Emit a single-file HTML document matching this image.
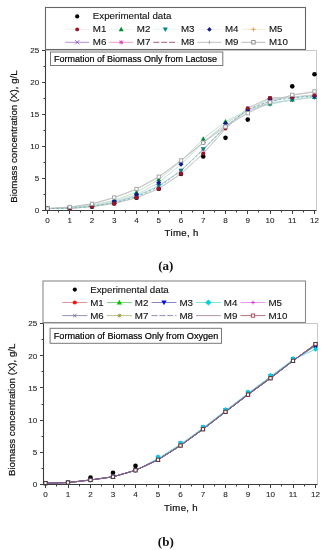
<!DOCTYPE html>
<html><head><meta charset="utf-8"><title>Biomass concentration</title>
<style>
html,body{margin:0;padding:0;background:#fff;}
body{width:325px;height:550px;overflow:hidden;}
svg{display:block;}
</style></head><body>
<svg width="325" height="550" viewBox="0 0 325 550">
<rect width="325" height="550" fill="#fff"/>
<path d="M45.5 50.5H316.5V210.5" stroke="#c8c8c8" stroke-width="1" fill="none"/>
<g fill="none" stroke-width="0.8">
<path d="M47.5 208.58L69.75 208.45L92 206.66L114.25 203.46L136.5 197.7L158.75 188.74L181 173.7L203.25 153.54L225.5 128.58L247.75 108.1L270 97.86L292.25 97.22L314.5 94.92" stroke="#e89898" stroke-linejoin="round"/>
<path d="M47.5 208.58L69.75 207.62L92 205.06L114.25 200.26L136.5 192.26L158.75 179.52L181 161.22L203.25 138.82L225.5 121.54L247.75 110.02L270 103.62L292.25 99.78L314.5 97.22" stroke="#b4dcbc" stroke-linejoin="round"/>
<path d="M47.5 208.58L69.75 207.94L92 206.02L114.25 202.18L136.5 195.78L158.75 185.92L181 170.63L203.25 149.06L225.5 127.3L247.75 110.02L270 104.26L292.25 99.78L314.5 97.22" stroke="#a8d8dc" stroke-linejoin="round"/>
<path d="M47.5 208.58L69.75 207.94L92 205.7L114.25 201.22L136.5 194.63L158.75 182.72L181 164.16L203.25 142.66L225.5 123.46L247.75 110.02L270 99.14L292.25 97.22L314.5 95.94" stroke="#c8d4e0" stroke-linejoin="round"/>
<path d="M47.5 208.58L69.75 207.94L92 205.7L114.25 201.22L136.5 194.63L158.75 182.72L181 164.16L203.25 142.66L225.5 123.46L247.75 110.02L270 99.14L292.25 97.22L314.5 95.94" stroke="#d8e4e0" stroke-linejoin="round"/>
<path d="M47.5 208.58L69.75 208.45L92 206.66L114.25 203.46L136.5 197.7L158.75 188.74L181 173.7L203.25 153.54L225.5 128.58L247.75 108.1L270 97.86L292.25 97.22L314.5 94.92" stroke="#b8d8d8" stroke-linejoin="round"/>
<path d="M47.5 208.58L69.75 207.94L92 206.02L114.25 202.18L136.5 195.78L158.75 185.92L181 170.63L203.25 149.06L225.5 127.3L247.75 110.02L270 102.98L292.25 99.78L314.5 97.22" stroke="#b8dcdc" stroke-linejoin="round"/>
<path d="M47.5 208.58L69.75 207.3L92 204.1L114.25 197.7L136.5 189.38L158.75 177.22L181 160.58L203.25 142.02L225.5 125.38L247.75 112.58L270 100.42L292.25 95.3L314.5 92.1" stroke="#c8c8c8" stroke-linejoin="round"/>
<path d="M47.5 208.58L69.75 206.98L92 203.78L114.25 197.51L136.5 188.93L158.75 176.71L181 160.45L203.25 142.66L225.5 126.66L247.75 113.22L270 102.34L292.25 94.85L314.5 91.46" stroke="#bcbcbc" stroke-linejoin="round"/>
<path d="M47.5 208.58L69.75 208.26L92 206.34L114.25 202.82L136.5 196.74L158.75 186.82L181 170.82L203.25 149.7L225.5 126.66L247.75 109.38L270 101.06L292.25 97.86L314.5 95.94" stroke="#6aa8a8" stroke-dasharray="2.5 2" stroke-linejoin="round"/>
</g>
<circle cx="47.5" cy="208.58" r="2.3" fill="#000"/>
<circle cx="69.75" cy="208.26" r="2.3" fill="#000"/>
<circle cx="92" cy="206.66" r="2.3" fill="#000"/>
<circle cx="114.25" cy="203.46" r="2.3" fill="#000"/>
<circle cx="136.5" cy="197.7" r="2.3" fill="#000"/>
<circle cx="158.75" cy="188.74" r="2.3" fill="#000"/>
<circle cx="181" cy="174.02" r="2.3" fill="#000"/>
<circle cx="203.25" cy="156.42" r="2.3" fill="#000"/>
<circle cx="225.5" cy="137.86" r="2.3" fill="#000"/>
<circle cx="247.75" cy="119.62" r="2.3" fill="#000"/>
<circle cx="270" cy="98.5" r="2.3" fill="#000"/>
<circle cx="292.25" cy="86.34" r="2.3" fill="#000"/>
<circle cx="314.5" cy="74.18" r="2.3" fill="#000"/>
<path d="M45.5 208.58H49.5M47.5 206.58V210.58" stroke="#f08020" stroke-width="0.7" fill="none"/>
<path d="M67.75 207.94H71.75M69.75 205.94V209.94" stroke="#f08020" stroke-width="0.7" fill="none"/>
<path d="M90 205.7H94M92 203.7V207.7" stroke="#f08020" stroke-width="0.7" fill="none"/>
<path d="M112.25 201.22H116.25M114.25 199.22V203.22" stroke="#f08020" stroke-width="0.7" fill="none"/>
<path d="M134.5 194.63H138.5M136.5 192.63V196.63" stroke="#f08020" stroke-width="0.7" fill="none"/>
<path d="M156.75 182.72H160.75M158.75 180.72V184.72" stroke="#f08020" stroke-width="0.7" fill="none"/>
<path d="M179 164.16H183M181 162.16V166.16" stroke="#f08020" stroke-width="0.7" fill="none"/>
<path d="M201.25 142.66H205.25M203.25 140.66V144.66" stroke="#f08020" stroke-width="0.7" fill="none"/>
<path d="M223.5 123.46H227.5M225.5 121.46V125.46" stroke="#f08020" stroke-width="0.7" fill="none"/>
<path d="M245.75 110.02H249.75M247.75 108.02V112.02" stroke="#f08020" stroke-width="0.7" fill="none"/>
<path d="M268 99.14H272M270 97.14V101.14" stroke="#f08020" stroke-width="0.7" fill="none"/>
<path d="M290.25 97.22H294.25M292.25 95.22V99.22" stroke="#f08020" stroke-width="0.7" fill="none"/>
<path d="M312.5 95.94H316.5M314.5 93.94V97.94" stroke="#f08020" stroke-width="0.7" fill="none"/>
<path d="M45.9 206.98L49.1 210.18M45.9 210.18L49.1 206.98" stroke="#8040c0" stroke-width="0.8" fill="none"/>
<path d="M68.15 206.85L71.35 210.05M68.15 210.05L71.35 206.85" stroke="#8040c0" stroke-width="0.8" fill="none"/>
<path d="M90.4 205.06L93.6 208.26M90.4 208.26L93.6 205.06" stroke="#8040c0" stroke-width="0.8" fill="none"/>
<path d="M112.65 201.86L115.85 205.06M112.65 205.06L115.85 201.86" stroke="#8040c0" stroke-width="0.8" fill="none"/>
<path d="M134.9 196.1L138.1 199.3M134.9 199.3L138.1 196.1" stroke="#8040c0" stroke-width="0.8" fill="none"/>
<path d="M157.15 187.14L160.35 190.34M157.15 190.34L160.35 187.14" stroke="#8040c0" stroke-width="0.8" fill="none"/>
<path d="M179.4 172.1L182.6 175.3M179.4 175.3L182.6 172.1" stroke="#8040c0" stroke-width="0.8" fill="none"/>
<path d="M201.65 151.94L204.85 155.14M201.65 155.14L204.85 151.94" stroke="#8040c0" stroke-width="0.8" fill="none"/>
<path d="M223.9 126.98L227.1 130.18M223.9 130.18L227.1 126.98" stroke="#8040c0" stroke-width="0.8" fill="none"/>
<path d="M246.15 106.5L249.35 109.7M246.15 109.7L249.35 106.5" stroke="#8040c0" stroke-width="0.8" fill="none"/>
<path d="M268.4 96.26L271.6 99.46M268.4 99.46L271.6 96.26" stroke="#8040c0" stroke-width="0.8" fill="none"/>
<path d="M290.65 95.62L293.85 98.82M290.65 98.82L293.85 95.62" stroke="#8040c0" stroke-width="0.8" fill="none"/>
<path d="M312.9 93.32L316.1 96.52M312.9 96.52L316.1 93.32" stroke="#8040c0" stroke-width="0.8" fill="none"/>
<path d="M45.8 206.88L49.2 210.28M45.8 210.28L49.2 206.88M45.5 208.58H49.5M47.5 206.58V210.58" stroke="#e040b0" stroke-width="0.9" fill="none"/>
<path d="M68.05 206.24L71.45 209.64M68.05 209.64L71.45 206.24M67.75 207.94H71.75M69.75 205.94V209.94" stroke="#e040b0" stroke-width="0.9" fill="none"/>
<path d="M90.3 204.32L93.7 207.72M90.3 207.72L93.7 204.32M90 206.02H94M92 204.02V208.02" stroke="#e040b0" stroke-width="0.9" fill="none"/>
<path d="M112.55 200.48L115.95 203.88M112.55 203.88L115.95 200.48M112.25 202.18H116.25M114.25 200.18V204.18" stroke="#e040b0" stroke-width="0.9" fill="none"/>
<path d="M134.8 194.08L138.2 197.48M134.8 197.48L138.2 194.08M134.5 195.78H138.5M136.5 193.78V197.78" stroke="#e040b0" stroke-width="0.9" fill="none"/>
<path d="M157.05 184.22L160.45 187.62M157.05 187.62L160.45 184.22M156.75 185.92H160.75M158.75 183.92V187.92" stroke="#e040b0" stroke-width="0.9" fill="none"/>
<path d="M179.3 168.93L182.7 172.33M179.3 172.33L182.7 168.93M179 170.63H183M181 168.63V172.63" stroke="#e040b0" stroke-width="0.9" fill="none"/>
<path d="M201.55 147.36L204.95 150.76M201.55 150.76L204.95 147.36M201.25 149.06H205.25M203.25 147.06V151.06" stroke="#e040b0" stroke-width="0.9" fill="none"/>
<path d="M223.8 125.6L227.2 129M223.8 129L227.2 125.6M223.5 127.3H227.5M225.5 125.3V129.3" stroke="#e040b0" stroke-width="0.9" fill="none"/>
<path d="M246.05 108.32L249.45 111.72M246.05 111.72L249.45 108.32M245.75 110.02H249.75M247.75 108.02V112.02" stroke="#e040b0" stroke-width="0.9" fill="none"/>
<path d="M268.3 101.28L271.7 104.68M268.3 104.68L271.7 101.28M268 102.98H272M270 100.98V104.98" stroke="#e040b0" stroke-width="0.9" fill="none"/>
<path d="M290.55 98.08L293.95 101.48M290.55 101.48L293.95 98.08M290.25 99.78H294.25M292.25 97.78V101.78" stroke="#e040b0" stroke-width="0.9" fill="none"/>
<path d="M312.8 95.52L316.2 98.92M312.8 98.92L316.2 95.52M312.5 97.22H316.5M314.5 95.22V99.22" stroke="#e040b0" stroke-width="0.9" fill="none"/>
<path d="M47.5 206.78V210.38" stroke="#999" stroke-width="0.9" fill="none"/>
<path d="M69.75 205.5V209.1" stroke="#999" stroke-width="0.9" fill="none"/>
<path d="M92 202.3V205.9" stroke="#999" stroke-width="0.9" fill="none"/>
<path d="M114.25 195.9V199.5" stroke="#999" stroke-width="0.9" fill="none"/>
<path d="M136.5 187.58V191.18" stroke="#999" stroke-width="0.9" fill="none"/>
<path d="M158.75 175.42V179.02" stroke="#999" stroke-width="0.9" fill="none"/>
<path d="M181 158.78V162.38" stroke="#999" stroke-width="0.9" fill="none"/>
<path d="M203.25 140.22V143.82" stroke="#999" stroke-width="0.9" fill="none"/>
<path d="M225.5 123.58V127.18" stroke="#999" stroke-width="0.9" fill="none"/>
<path d="M247.75 110.78V114.38" stroke="#999" stroke-width="0.9" fill="none"/>
<path d="M270 98.62V102.22" stroke="#999" stroke-width="0.9" fill="none"/>
<path d="M292.25 93.5V97.1" stroke="#999" stroke-width="0.9" fill="none"/>
<path d="M314.5 90.3V93.9" stroke="#999" stroke-width="0.9" fill="none"/>
<polygon points="47.5,206.11 45.03,210.41 49.97,210.41" fill="#008a30"/>
<polygon points="69.75,205.15 67.28,209.45 72.22,209.45" fill="#008a30"/>
<polygon points="92,202.59 89.53,206.89 94.47,206.89" fill="#008a30"/>
<polygon points="114.25,197.79 111.78,202.09 116.72,202.09" fill="#008a30"/>
<polygon points="136.5,189.79 134.03,194.09 138.97,194.09" fill="#008a30"/>
<polygon points="158.75,177.05 156.28,181.35 161.22,181.35" fill="#008a30"/>
<polygon points="181,158.75 178.53,163.05 183.47,163.05" fill="#008a30"/>
<polygon points="203.25,136.35 200.78,140.65 205.72,140.65" fill="#008a30"/>
<polygon points="225.5,119.07 223.03,123.37 227.97,123.37" fill="#008a30"/>
<polygon points="247.75,107.55 245.28,111.85 250.22,111.85" fill="#008a30"/>
<polygon points="270,101.15 267.53,105.45 272.47,105.45" fill="#008a30"/>
<polygon points="292.25,97.31 289.78,101.61 294.72,101.61" fill="#008a30"/>
<polygon points="314.5,94.75 312.03,99.05 316.97,99.05" fill="#008a30"/>
<polygon points="47.5,211.05 45.03,206.75 49.97,206.75" fill="#008888"/>
<polygon points="69.75,210.41 67.28,206.11 72.22,206.11" fill="#008888"/>
<polygon points="92,208.49 89.53,204.19 94.47,204.19" fill="#008888"/>
<polygon points="114.25,204.65 111.78,200.35 116.72,200.35" fill="#008888"/>
<polygon points="136.5,198.25 134.03,193.95 138.97,193.95" fill="#008888"/>
<polygon points="158.75,188.4 156.28,184.1 161.22,184.1" fill="#008888"/>
<polygon points="181,173.1 178.53,168.8 183.47,168.8" fill="#008888"/>
<polygon points="203.25,151.53 200.78,147.23 205.72,147.23" fill="#008888"/>
<polygon points="225.5,129.77 223.03,125.47 227.97,125.47" fill="#008888"/>
<polygon points="247.75,112.49 245.28,108.19 250.22,108.19" fill="#008888"/>
<polygon points="270,106.73 267.53,102.43 272.47,102.43" fill="#008888"/>
<polygon points="292.25,102.25 289.78,97.95 294.72,97.95" fill="#008888"/>
<polygon points="314.5,99.69 312.03,95.39 316.97,95.39" fill="#008888"/>
<polygon points="47.5,206.06 50.02,208.58 47.5,211.1 44.98,208.58" fill="#101890"/>
<polygon points="69.75,205.42 72.27,207.94 69.75,210.46 67.23,207.94" fill="#101890"/>
<polygon points="92,203.18 94.52,205.7 92,208.22 89.48,205.7" fill="#101890"/>
<polygon points="114.25,198.7 116.77,201.22 114.25,203.74 111.73,201.22" fill="#101890"/>
<polygon points="136.5,192.11 139.02,194.63 136.5,197.15 133.98,194.63" fill="#101890"/>
<polygon points="158.75,180.2 161.27,182.72 158.75,185.24 156.23,182.72" fill="#101890"/>
<polygon points="181,161.64 183.52,164.16 181,166.68 178.48,164.16" fill="#101890"/>
<polygon points="203.25,140.14 205.77,142.66 203.25,145.18 200.73,142.66" fill="#101890"/>
<polygon points="225.5,120.94 228.02,123.46 225.5,125.98 222.98,123.46" fill="#101890"/>
<polygon points="247.75,107.5 250.27,110.02 247.75,112.54 245.23,110.02" fill="#101890"/>
<polygon points="270,96.62 272.52,99.14 270,101.66 267.48,99.14" fill="#101890"/>
<polygon points="292.25,94.7 294.77,97.22 292.25,99.74 289.73,97.22" fill="#101890"/>
<polygon points="314.5,93.42 317.02,95.94 314.5,98.46 311.98,95.94" fill="#101890"/>
<circle cx="47.5" cy="208.58" r="1.95" fill="#a01020"/>
<circle cx="69.75" cy="208.45" r="1.95" fill="#a01020"/>
<circle cx="92" cy="206.66" r="1.95" fill="#a01020"/>
<circle cx="114.25" cy="203.46" r="1.95" fill="#a01020"/>
<circle cx="136.5" cy="197.7" r="1.95" fill="#a01020"/>
<circle cx="158.75" cy="188.74" r="1.95" fill="#a01020"/>
<circle cx="181" cy="173.7" r="1.95" fill="#a01020"/>
<circle cx="203.25" cy="153.54" r="1.95" fill="#a01020"/>
<circle cx="225.5" cy="128.58" r="1.95" fill="#a01020"/>
<circle cx="247.75" cy="108.1" r="1.95" fill="#a01020"/>
<circle cx="270" cy="97.86" r="1.95" fill="#a01020"/>
<circle cx="292.25" cy="97.22" r="1.95" fill="#a01020"/>
<circle cx="314.5" cy="94.92" r="1.95" fill="#a01020"/>
<rect x="45.85" y="206.93" width="3.3" height="3.3" fill="#fff" stroke="#a0a0a0" stroke-width="0.9"/>
<rect x="68.1" y="205.33" width="3.3" height="3.3" fill="#fff" stroke="#a0a0a0" stroke-width="0.9"/>
<rect x="90.35" y="202.13" width="3.3" height="3.3" fill="#fff" stroke="#a0a0a0" stroke-width="0.9"/>
<rect x="112.6" y="195.86" width="3.3" height="3.3" fill="#fff" stroke="#a0a0a0" stroke-width="0.9"/>
<rect x="134.85" y="187.28" width="3.3" height="3.3" fill="#fff" stroke="#a0a0a0" stroke-width="0.9"/>
<rect x="157.1" y="175.06" width="3.3" height="3.3" fill="#fff" stroke="#a0a0a0" stroke-width="0.9"/>
<rect x="179.35" y="158.8" width="3.3" height="3.3" fill="#fff" stroke="#a0a0a0" stroke-width="0.9"/>
<rect x="201.6" y="141.01" width="3.3" height="3.3" fill="#fff" stroke="#a0a0a0" stroke-width="0.9"/>
<rect x="223.85" y="125.01" width="3.3" height="3.3" fill="#fff" stroke="#a0a0a0" stroke-width="0.9"/>
<rect x="246.1" y="111.57" width="3.3" height="3.3" fill="#fff" stroke="#a0a0a0" stroke-width="0.9"/>
<rect x="268.35" y="100.69" width="3.3" height="3.3" fill="#fff" stroke="#a0a0a0" stroke-width="0.9"/>
<rect x="290.6" y="93.2" width="3.3" height="3.3" fill="#fff" stroke="#a0a0a0" stroke-width="0.9"/>
<rect x="312.85" y="89.81" width="3.3" height="3.3" fill="#fff" stroke="#a0a0a0" stroke-width="0.9"/>
<path d="M45.5 50.5V210.5H316.5" stroke="#3c3c3c" stroke-width="1.1" fill="none"/>
<path d="M47.5 210.5v3.5M58.5 210.5v2M69.5 210.5v3.5M80.5 210.5v2M92.5 210.5v3.5M103.5 210.5v2M114.5 210.5v3.5M125.5 210.5v2M136.5 210.5v3.5M147.5 210.5v2M158.5 210.5v3.5M169.5 210.5v2M181.5 210.5v3.5M192.5 210.5v2M203.5 210.5v3.5M214.5 210.5v2M225.5 210.5v3.5M236.5 210.5v2M247.5 210.5v3.5M258.5 210.5v2M270.5 210.5v3.5M281.5 210.5v2M292.5 210.5v3.5M303.5 210.5v2M314.5 210.5v3.5M45.5 210.5h-3.5M45.5 194.5h-2M45.5 178.5h-3.5M45.5 162.5h-2M45.5 146.5h-3.5M45.5 130.5h-2M45.5 114.5h-3.5M45.5 98.5h-2M45.5 82.5h-3.5M45.5 66.5h-2M45.5 50.5h-3.5" stroke="#3c3c3c" stroke-width="1" fill="none"/>
<g style="font-family:'Liberation Sans',Arial,sans-serif;font-size:8.1px" fill="#222" stroke="#222" stroke-width="0.08">
<text x="47.5" y="222.6" text-anchor="middle">0</text>
<text x="69.75" y="222.6" text-anchor="middle">1</text>
<text x="92" y="222.6" text-anchor="middle">2</text>
<text x="114.25" y="222.6" text-anchor="middle">3</text>
<text x="136.5" y="222.6" text-anchor="middle">4</text>
<text x="158.75" y="222.6" text-anchor="middle">5</text>
<text x="181" y="222.6" text-anchor="middle">6</text>
<text x="203.25" y="222.6" text-anchor="middle">7</text>
<text x="225.5" y="222.6" text-anchor="middle">8</text>
<text x="247.75" y="222.6" text-anchor="middle">9</text>
<text x="270" y="222.6" text-anchor="middle">10</text>
<text x="292.25" y="222.6" text-anchor="middle">11</text>
<text x="314.5" y="222.6" text-anchor="middle">12</text>
<text x="39.3" y="213.4" text-anchor="end">0</text>
<text x="39.3" y="181.4" text-anchor="end">5</text>
<text x="39.3" y="149.4" text-anchor="end">10</text>
<text x="39.3" y="117.4" text-anchor="end">15</text>
<text x="39.3" y="85.4" text-anchor="end">20</text>
<text x="39.3" y="53.4" text-anchor="end">25</text>
</g>
<text x="181.6" y="235.9" text-anchor="middle" style="font-family:'Liberation Sans',Arial,sans-serif;font-size:9.6px;letter-spacing:0.35px" fill="#111" stroke="#111" stroke-width="0.22">Time, h</text>
<text transform="translate(17.1 136.6) rotate(-90)" text-anchor="middle" style="font-family:'Liberation Sans',Arial,sans-serif;font-size:9.7px" fill="#111" stroke="#111" stroke-width="0.22">Biomass concentration (X), g/L</text>
<rect x="45.5" y="7.5" width="260" height="42" fill="#fff" stroke="#666" stroke-width="1.1"/>
<circle cx="77.2" cy="16.4" r="2.1" fill="#000"/>
<path d="M65.2 29.4H89.2" stroke="#fae6e6" stroke-width="0.9" fill="none"/>
<circle cx="77.2" cy="29.4" r="1.9" fill="#a01020"/>
<path d="M109.2 29.4H133.2" stroke="#e6f6ea" stroke-width="0.9" fill="none"/>
<polygon points="121.2,26.87 118.67,31.27 123.73,31.27" fill="#008a30"/>
<path d="M153.3 29.4H177.3" stroke="#e2f5f6" stroke-width="0.9" fill="none"/>
<polygon points="165.3,31.93 162.77,27.53 167.83,27.53" fill="#008888"/>
<path d="M197.4 29.4H221.4" stroke="#eeeef8" stroke-width="0.9" fill="none"/>
<polygon points="209.4,27.12 211.68,29.4 209.4,31.68 207.12,29.4" fill="#101890"/>
<path d="M241.4 29.4H265.4" stroke="#fbead4" stroke-width="0.9" fill="none"/>
<path d="M251.2 29.4H255.6M253.4 27.2V31.6" stroke="#f08020" stroke-width="0.7" fill="none"/>
<path d="M65.2 42.3H89.2" stroke="#b088cc" stroke-width="0.9" fill="none"/>
<path d="M75.12 40.22L79.28 44.38M75.12 44.38L79.28 40.22" stroke="#8040c0" stroke-width="0.8" fill="none"/>
<path d="M109.2 42.3H133.2" stroke="#e890c8" stroke-width="0.9" fill="none"/>
<path d="M119.5 40.6L122.9 44M119.5 44L122.9 40.6M119.2 42.3H123.2M121.2 40.3V44.3" stroke="#e040b0" stroke-width="0.9" fill="none"/>
<path d="M153.3 42.3H177.3" stroke="#985060" stroke-width="0.9" stroke-dasharray="6 1.9" fill="none"/>
<path d="M197.4 42.3H221.4" stroke="#b8b8b8" stroke-width="0.9" fill="none"/>
<path d="M209.4 40.5V44.1" stroke="#999" stroke-width="0.9" fill="none"/>
<path d="M241.4 42.3H265.4" stroke="#b0b0b0" stroke-width="0.9" fill="none"/>
<rect x="251.7" y="40.6" width="3.4" height="3.4" fill="#fff" stroke="#808080" stroke-width="0.9"/>
<g style="font-family:'Liberation Sans',Arial,sans-serif;font-size:9.75px" fill="#111" stroke="#111" stroke-width="0.12">
<text x="92.8" y="19.2">Experimental data</text>
<text x="92.8" y="32.2">M1</text>
<text x="136.8" y="32.2">M2</text>
<text x="180.9" y="32.2">M3</text>
<text x="225" y="32.2">M4</text>
<text x="269" y="32.2">M5</text>
<text x="92.8" y="45.1">M6</text>
<text x="136.8" y="45.1">M7</text>
<text x="180.9" y="45.1">M8</text>
<text x="225" y="45.1">M9</text>
<text x="269" y="45.1">M10</text>
</g>
<rect x="50.5" y="52" width="172.3" height="13.5" fill="#fff" stroke="#777" stroke-width="1"/>
<text x="54" y="61.9" style="font-family:'Liberation Sans',Arial,sans-serif;font-size:9.1px" fill="#000" stroke="#000" stroke-width="0.2" textLength="163" lengthAdjust="spacingAndGlyphs">Formation of Biomass Only from Lactose</text>
<text x="165.8" y="270" text-anchor="middle" style="font-family:'Liberation Serif',serif;font-weight:bold;font-size:13px" fill="#111">(a)</text>
<path d="M43.5 323.5H317.5V484.5" stroke="#c8c8c8" stroke-width="1" fill="none"/>
<g fill="none" stroke-width="0.7">
<path d="M45.5 483.21L68 482.57L90.5 479.99L113 476.77L135.5 470.33L158 459.77L180.5 445.54L203 429.24L225.5 411.86L248 394.66L270.5 378.24L293 360.85L315.5 344.11" stroke="#d86868" stroke-linejoin="round"/>
<path d="M45.5 483.21L68 482.57L90.5 479.99L113 476.77L135.5 470.33L158 459.77L180.5 445.22L203 428.6L225.5 411.21L248 393.7L270.5 376.95L293 360.21L315.5 346.04" stroke="#40c040" stroke-linejoin="round"/>
<path d="M45.5 483.21L68 482.57L90.5 479.99L113 476.77L135.5 470.33L158 458.48L180.5 444.25L203 427.96L225.5 410.57L248 393.37L270.5 376.63L293 359.56L315.5 349.26" stroke="#30d0d8" stroke-linejoin="round"/>
<path d="M45.5 483.21L68 482.57L90.5 479.99L113 476.77L135.5 470.33L158 459.77L180.5 445.54L203 428.92L225.5 411.53L248 394.02L270.5 377.6L293 360.53L315.5 344.75" stroke="#d050d0" stroke-linejoin="round"/>
<path d="M45.5 483.21L68 482.57L90.5 479.99L113 476.77L135.5 470.33L158 459.77L180.5 445.54L203 429.24L225.5 411.86L248 394.66L270.5 378.24L293 360.85L315.5 344.11" stroke="#7070a0" stroke-linejoin="round"/>
<path d="M45.5 483.21L68 482.57L90.5 479.99L113 476.77L135.5 470.33L158 459.77L180.5 445.54L203 429.24L225.5 411.86L248 394.66L270.5 378.24L293 360.85L315.5 344.11" stroke="#a8a860" stroke-linejoin="round"/>
<path d="M45.5 483.21L68 482.57L90.5 479.99L113 476.77L135.5 470.33L158 459.77L180.5 445.54L203 429.24L225.5 411.86L248 394.66L270.5 378.24L293 360.85L315.5 344.11" stroke="#7a3a50" stroke-linejoin="round"/>
<path d="M45.5 483.21L68 482.57L90.5 479.99L113 476.77L135.5 470.33L158 459.77L180.5 445.54L203 429.24L225.5 411.86L248 394.66L270.5 378.24L293 360.85L315.5 345.4" stroke="#5050b0" stroke-linejoin="round"/>
<path d="M45.5 483.21L68 482.57L90.5 479.99L113 476.77L135.5 470.33L158 459.77L180.5 445.54L203 429.24L225.5 411.86L248 394.66L270.5 378.24L293 360.85L315.5 344.11" stroke="#5858a8" stroke-dasharray="3 2" stroke-linejoin="round"/>
<path d="M45.5 483.21L68 482.57L90.5 479.99L113 476.77L135.5 470.33L158 459.77L180.5 445.54L203 429.24L225.5 411.86L248 394.66L270.5 378.24L293 360.85L315.5 344.11" stroke="#a06888" stroke-linejoin="round"/>
</g>
<circle cx="45.5" cy="483.21" r="2.3" fill="#000"/>
<circle cx="68" cy="482.57" r="2.3" fill="#000"/>
<circle cx="90.5" cy="477.61" r="2.3" fill="#000"/>
<circle cx="113" cy="472.71" r="2.3" fill="#000"/>
<circle cx="135.5" cy="465.89" r="2.3" fill="#000"/>
<path d="M43.5 483.21H47.5M45.5 481.21V485.21" stroke="#e020e0" stroke-width="0.9" fill="none"/>
<path d="M66 482.57H70M68 480.57V484.57" stroke="#e020e0" stroke-width="0.9" fill="none"/>
<path d="M88.5 479.99H92.5M90.5 477.99V481.99" stroke="#e020e0" stroke-width="0.9" fill="none"/>
<path d="M111 476.77H115M113 474.77V478.77" stroke="#e020e0" stroke-width="0.9" fill="none"/>
<path d="M133.5 470.33H137.5M135.5 468.33V472.33" stroke="#e020e0" stroke-width="0.9" fill="none"/>
<path d="M156 459.77H160M158 457.77V461.77" stroke="#e020e0" stroke-width="0.9" fill="none"/>
<path d="M178.5 445.54H182.5M180.5 443.54V447.54" stroke="#e020e0" stroke-width="0.9" fill="none"/>
<path d="M201 428.92H205M203 426.92V430.92" stroke="#e020e0" stroke-width="0.9" fill="none"/>
<path d="M223.5 411.53H227.5M225.5 409.53V413.53" stroke="#e020e0" stroke-width="0.9" fill="none"/>
<path d="M246 394.02H250M248 392.02V396.02" stroke="#e020e0" stroke-width="0.9" fill="none"/>
<path d="M268.5 377.6H272.5M270.5 375.6V379.6" stroke="#e020e0" stroke-width="0.9" fill="none"/>
<path d="M291 360.53H295M293 358.53V362.53" stroke="#e020e0" stroke-width="0.9" fill="none"/>
<path d="M313.5 344.75H317.5M315.5 342.75V346.75" stroke="#e020e0" stroke-width="0.9" fill="none"/>
<path d="M43.9 481.61L47.1 484.81M43.9 484.81L47.1 481.61" stroke="#6060a0" stroke-width="0.9" fill="none"/>
<path d="M66.4 480.97L69.6 484.17M66.4 484.17L69.6 480.97" stroke="#6060a0" stroke-width="0.9" fill="none"/>
<path d="M88.9 478.39L92.1 481.59M88.9 481.59L92.1 478.39" stroke="#6060a0" stroke-width="0.9" fill="none"/>
<path d="M111.4 475.17L114.6 478.37M111.4 478.37L114.6 475.17" stroke="#6060a0" stroke-width="0.9" fill="none"/>
<path d="M133.9 468.73L137.1 471.93M133.9 471.93L137.1 468.73" stroke="#6060a0" stroke-width="0.9" fill="none"/>
<path d="M156.4 458.17L159.6 461.37M156.4 461.37L159.6 458.17" stroke="#6060a0" stroke-width="0.9" fill="none"/>
<path d="M178.9 443.94L182.1 447.14M178.9 447.14L182.1 443.94" stroke="#6060a0" stroke-width="0.9" fill="none"/>
<path d="M201.4 427.64L204.6 430.84M201.4 430.84L204.6 427.64" stroke="#6060a0" stroke-width="0.9" fill="none"/>
<path d="M223.9 410.26L227.1 413.46M223.9 413.46L227.1 410.26" stroke="#6060a0" stroke-width="0.9" fill="none"/>
<path d="M246.4 393.06L249.6 396.26M246.4 396.26L249.6 393.06" stroke="#6060a0" stroke-width="0.9" fill="none"/>
<path d="M268.9 376.64L272.1 379.84M268.9 379.84L272.1 376.64" stroke="#6060a0" stroke-width="0.9" fill="none"/>
<path d="M291.4 359.25L294.6 362.45M291.4 362.45L294.6 359.25" stroke="#6060a0" stroke-width="0.9" fill="none"/>
<path d="M313.9 342.51L317.1 345.71M313.9 345.71L317.1 342.51" stroke="#6060a0" stroke-width="0.9" fill="none"/>
<path d="M43.8 481.51L47.2 484.91M43.8 484.91L47.2 481.51M43.5 483.21H47.5M45.5 481.21V485.21" stroke="#a0a040" stroke-width="0.9" fill="none"/>
<path d="M66.3 480.87L69.7 484.27M66.3 484.27L69.7 480.87M66 482.57H70M68 480.57V484.57" stroke="#a0a040" stroke-width="0.9" fill="none"/>
<path d="M88.8 478.29L92.2 481.69M88.8 481.69L92.2 478.29M88.5 479.99H92.5M90.5 477.99V481.99" stroke="#a0a040" stroke-width="0.9" fill="none"/>
<path d="M111.3 475.07L114.7 478.47M111.3 478.47L114.7 475.07M111 476.77H115M113 474.77V478.77" stroke="#a0a040" stroke-width="0.9" fill="none"/>
<path d="M133.8 468.63L137.2 472.03M133.8 472.03L137.2 468.63M133.5 470.33H137.5M135.5 468.33V472.33" stroke="#a0a040" stroke-width="0.9" fill="none"/>
<path d="M156.3 458.07L159.7 461.47M156.3 461.47L159.7 458.07M156 459.77H160M158 457.77V461.77" stroke="#a0a040" stroke-width="0.9" fill="none"/>
<path d="M178.8 443.84L182.2 447.24M178.8 447.24L182.2 443.84M178.5 445.54H182.5M180.5 443.54V447.54" stroke="#a0a040" stroke-width="0.9" fill="none"/>
<path d="M201.3 427.54L204.7 430.94M201.3 430.94L204.7 427.54M201 429.24H205M203 427.24V431.24" stroke="#a0a040" stroke-width="0.9" fill="none"/>
<path d="M223.8 410.16L227.2 413.56M223.8 413.56L227.2 410.16M223.5 411.86H227.5M225.5 409.86V413.86" stroke="#a0a040" stroke-width="0.9" fill="none"/>
<path d="M246.3 392.96L249.7 396.36M246.3 396.36L249.7 392.96M246 394.66H250M248 392.66V396.66" stroke="#a0a040" stroke-width="0.9" fill="none"/>
<path d="M268.8 376.54L272.2 379.94M268.8 379.94L272.2 376.54M268.5 378.24H272.5M270.5 376.24V380.24" stroke="#a0a040" stroke-width="0.9" fill="none"/>
<path d="M291.3 359.15L294.7 362.55M291.3 362.55L294.7 359.15M291 360.85H295M293 358.85V362.85" stroke="#a0a040" stroke-width="0.9" fill="none"/>
<path d="M313.8 342.41L317.2 345.81M313.8 345.81L317.2 342.41M313.5 344.11H317.5M315.5 342.11V346.11" stroke="#a0a040" stroke-width="0.9" fill="none"/>
<circle cx="45.5" cy="483.21" r="2" fill="#ff1010"/>
<circle cx="68" cy="482.57" r="2" fill="#ff1010"/>
<circle cx="90.5" cy="479.99" r="2" fill="#ff1010"/>
<circle cx="113" cy="476.77" r="2" fill="#ff1010"/>
<circle cx="135.5" cy="470.33" r="2" fill="#ff1010"/>
<circle cx="158" cy="459.77" r="2" fill="#ff1010"/>
<circle cx="180.5" cy="445.54" r="2" fill="#ff1010"/>
<circle cx="203" cy="429.24" r="2" fill="#ff1010"/>
<circle cx="225.5" cy="411.86" r="2" fill="#ff1010"/>
<circle cx="248" cy="394.66" r="2" fill="#ff1010"/>
<circle cx="270.5" cy="378.24" r="2" fill="#ff1010"/>
<circle cx="293" cy="360.85" r="2" fill="#ff1010"/>
<circle cx="315.5" cy="344.11" r="2" fill="#ff1010"/>
<polygon points="45.5,480.91 43.2,484.91 47.8,484.91" fill="#00c000"/>
<polygon points="68,480.27 65.7,484.27 70.3,484.27" fill="#00c000"/>
<polygon points="90.5,477.69 88.2,481.69 92.8,481.69" fill="#00c000"/>
<polygon points="113,474.47 110.7,478.47 115.3,478.47" fill="#00c000"/>
<polygon points="135.5,468.03 133.2,472.03 137.8,472.03" fill="#00c000"/>
<polygon points="158,457.47 155.7,461.47 160.3,461.47" fill="#00c000"/>
<polygon points="180.5,442.92 178.2,446.92 182.8,446.92" fill="#00c000"/>
<polygon points="203,426.3 200.7,430.3 205.3,430.3" fill="#00c000"/>
<polygon points="225.5,408.91 223.2,412.91 227.8,412.91" fill="#00c000"/>
<polygon points="248,391.4 245.7,395.4 250.3,395.4" fill="#00c000"/>
<polygon points="270.5,374.65 268.2,378.65 272.8,378.65" fill="#00c000"/>
<polygon points="293,357.91 290.7,361.91 295.3,361.91" fill="#00c000"/>
<polygon points="315.5,343.74 313.2,347.74 317.8,347.74" fill="#00c000"/>
<polygon points="45.5,485.51 43.2,481.51 47.8,481.51" fill="#0010e0"/>
<polygon points="68,484.87 65.7,480.87 70.3,480.87" fill="#0010e0"/>
<polygon points="90.5,482.29 88.2,478.29 92.8,478.29" fill="#0010e0"/>
<polygon points="113,479.07 110.7,475.07 115.3,475.07" fill="#0010e0"/>
<polygon points="135.5,472.63 133.2,468.63 137.8,468.63" fill="#0010e0"/>
<polygon points="158,459.82 155.7,455.82 160.3,455.82" fill="#0010e0"/>
<polygon points="180.5,445.58 178.2,441.58 182.8,441.58" fill="#0010e0"/>
<polygon points="203,429.61 200.7,425.61 205.3,425.61" fill="#0010e0"/>
<polygon points="225.5,412.22 223.2,408.22 227.8,408.22" fill="#0010e0"/>
<polygon points="248,394.71 245.7,390.71 250.3,390.71" fill="#0010e0"/>
<polygon points="270.5,377.96 268.2,373.96 272.8,373.96" fill="#0010e0"/>
<polygon points="293,361.22 290.7,357.22 295.3,357.22" fill="#0010e0"/>
<polygon points="315.5,349.63 313.2,345.63 317.8,345.63" fill="#0010e0"/>
<polygon points="45.5,480.69 48.02,483.21 45.5,485.73 42.98,483.21" fill="#00d0e0"/>
<polygon points="68,480.05 70.52,482.57 68,485.09 65.48,482.57" fill="#00d0e0"/>
<polygon points="90.5,477.47 93.02,479.99 90.5,482.51 87.98,479.99" fill="#00d0e0"/>
<polygon points="113,474.25 115.52,476.77 113,479.29 110.48,476.77" fill="#00d0e0"/>
<polygon points="135.5,467.81 138.02,470.33 135.5,472.85 132.98,470.33" fill="#00d0e0"/>
<polygon points="158,454.35 160.52,456.87 158,459.39 155.48,456.87" fill="#00d0e0"/>
<polygon points="180.5,440.44 183.02,442.96 180.5,445.48 177.98,442.96" fill="#00d0e0"/>
<polygon points="203,424.47 205.52,426.99 203,429.51 200.48,426.99" fill="#00d0e0"/>
<polygon points="225.5,407.08 228.02,409.6 225.5,412.12 222.98,409.6" fill="#00d0e0"/>
<polygon points="248,389.57 250.52,392.09 248,394.61 245.48,392.09" fill="#00d0e0"/>
<polygon points="270.5,372.82 273.02,375.34 270.5,377.86 267.98,375.34" fill="#00d0e0"/>
<polygon points="293,356.08 295.52,358.6 293,361.12 290.48,358.6" fill="#00d0e0"/>
<polygon points="315.5,346.74 318.02,349.26 315.5,351.78 312.98,349.26" fill="#00d0e0"/>
<rect x="43.85" y="481.56" width="3.3" height="3.3" fill="#fff" stroke="#5a3038" stroke-width="1.0"/>
<rect x="66.35" y="480.92" width="3.3" height="3.3" fill="#fff" stroke="#5a3038" stroke-width="1.0"/>
<rect x="88.85" y="478.34" width="3.3" height="3.3" fill="#fff" stroke="#5a3038" stroke-width="1.0"/>
<rect x="111.35" y="475.12" width="3.3" height="3.3" fill="#fff" stroke="#5a3038" stroke-width="1.0"/>
<rect x="133.85" y="468.68" width="3.3" height="3.3" fill="#fff" stroke="#5a3038" stroke-width="1.0"/>
<rect x="156.35" y="458.12" width="3.3" height="3.3" fill="#fff" stroke="#5a3038" stroke-width="1.0"/>
<rect x="178.85" y="443.89" width="3.3" height="3.3" fill="#fff" stroke="#5a3038" stroke-width="1.0"/>
<rect x="201.35" y="427.59" width="3.3" height="3.3" fill="#fff" stroke="#5a3038" stroke-width="1.0"/>
<rect x="223.85" y="410.21" width="3.3" height="3.3" fill="#fff" stroke="#5a3038" stroke-width="1.0"/>
<rect x="246.35" y="393.01" width="3.3" height="3.3" fill="#fff" stroke="#5a3038" stroke-width="1.0"/>
<rect x="268.85" y="376.59" width="3.3" height="3.3" fill="#fff" stroke="#5a3038" stroke-width="1.0"/>
<rect x="291.35" y="359.2" width="3.3" height="3.3" fill="#fff" stroke="#5a3038" stroke-width="1.0"/>
<rect x="313.85" y="342.46" width="3.3" height="3.3" fill="#fff" stroke="#5a3038" stroke-width="1.0"/>
<path d="M43.5 323.5V484.5H317.5" stroke="#3c3c3c" stroke-width="1.1" fill="none"/>
<path d="M45.5 484.5v3.5M56.5 484.5v2M68.5 484.5v3.5M79.5 484.5v2M90.5 484.5v3.5M101.5 484.5v2M113.5 484.5v3.5M124.5 484.5v2M135.5 484.5v3.5M146.5 484.5v2M158.5 484.5v3.5M169.5 484.5v2M180.5 484.5v3.5M191.5 484.5v2M203.5 484.5v3.5M214.5 484.5v2M225.5 484.5v3.5M236.5 484.5v2M248.5 484.5v3.5M259.5 484.5v2M270.5 484.5v3.5M281.5 484.5v2M293.5 484.5v3.5M304.5 484.5v2M315.5 484.5v3.5M43.5 484.5h-3.5M43.5 468.5h-2M43.5 452.5h-3.5M43.5 436.5h-2M43.5 420.5h-3.5M43.5 404.5h-2M43.5 387.5h-3.5M43.5 371.5h-2M43.5 355.5h-3.5M43.5 339.5h-2M43.5 323.5h-3.5" stroke="#3c3c3c" stroke-width="1" fill="none"/>
<g style="font-family:'Liberation Sans',Arial,sans-serif;font-size:8.1px" fill="#222" stroke="#222" stroke-width="0.08">
<text x="45.5" y="497.3" text-anchor="middle">0</text>
<text x="68" y="497.3" text-anchor="middle">1</text>
<text x="90.5" y="497.3" text-anchor="middle">2</text>
<text x="113" y="497.3" text-anchor="middle">3</text>
<text x="135.5" y="497.3" text-anchor="middle">4</text>
<text x="158" y="497.3" text-anchor="middle">5</text>
<text x="180.5" y="497.3" text-anchor="middle">6</text>
<text x="203" y="497.3" text-anchor="middle">7</text>
<text x="225.5" y="497.3" text-anchor="middle">8</text>
<text x="248" y="497.3" text-anchor="middle">9</text>
<text x="270.5" y="497.3" text-anchor="middle">10</text>
<text x="293" y="497.3" text-anchor="middle">11</text>
<text x="315.5" y="497.3" text-anchor="middle">12</text>
<text x="37.3" y="487.4" text-anchor="end">0</text>
<text x="37.3" y="455.2" text-anchor="end">5</text>
<text x="37.3" y="423" text-anchor="end">10</text>
<text x="37.3" y="390.8" text-anchor="end">15</text>
<text x="37.3" y="358.6" text-anchor="end">20</text>
<text x="37.3" y="326.4" text-anchor="end">25</text>
</g>
<text x="181" y="510.6" text-anchor="middle" style="font-family:'Liberation Sans',Arial,sans-serif;font-size:9.6px;letter-spacing:0.35px" fill="#111" stroke="#111" stroke-width="0.22">Time, h</text>
<text transform="translate(15.1 409.8) rotate(-90)" text-anchor="middle" style="font-family:'Liberation Sans',Arial,sans-serif;font-size:9.7px" fill="#111" stroke="#111" stroke-width="0.22">Biomass concentration (X), g/L</text>
<rect x="43" y="281" width="262.5" height="41.5" fill="#fff" stroke="#8a8a8a" stroke-width="1.1"/>
<circle cx="74.8" cy="289.6" r="2.1" fill="#000"/>
<path d="M62.3 302.5H87.3" stroke="#e08888" stroke-width="0.9" fill="none"/>
<circle cx="74.8" cy="302.5" r="2.1" fill="#ff1010"/>
<path d="M106.9 302.5H131.9" stroke="#70d070" stroke-width="0.9" fill="none"/>
<polygon points="119.4,299.86 116.76,304.45 122.05,304.45" fill="#00c000"/>
<path d="M151.5 302.5H176.5" stroke="#7878c0" stroke-width="0.9" fill="none"/>
<polygon points="164,305.14 161.35,300.55 166.65,300.55" fill="#0010e0"/>
<path d="M195.9 302.5H220.9" stroke="#70e0e0" stroke-width="0.9" fill="none"/>
<polygon points="208.4,299.38 211.52,302.5 208.4,305.62 205.28,302.5" fill="#00d0e0"/>
<path d="M240.5 302.5H265.5" stroke="#e890e8" stroke-width="0.9" fill="none"/>
<path d="M251.1 302.5H254.9M253 300.6V304.4" stroke="#e020e0" stroke-width="0.9" fill="none"/>
<path d="M62.3 315.6H87.3" stroke="#8888b4" stroke-width="0.9" fill="none"/>
<path d="M73.28 314.08L76.32 317.12M73.28 317.12L76.32 314.08" stroke="#6060a0" stroke-width="0.9" fill="none"/>
<path d="M106.9 315.6H131.9" stroke="#b8b880" stroke-width="0.9" fill="none"/>
<path d="M117.79 313.99L121.02 317.22M117.79 317.22L121.02 313.99M117.5 315.6H121.3M119.4 313.7V317.5" stroke="#a0a040" stroke-width="0.9" fill="none"/>
<path d="M151.5 315.6H176.5" stroke="#8080b8" stroke-width="0.9" stroke-dasharray="6 1.9" fill="none"/>
<path d="M195.9 315.6H220.9" stroke="#b08898" stroke-width="0.9" fill="none"/>
<path d="M240.5 315.6H265.5" stroke="#b06070" stroke-width="0.9" fill="none"/>
<rect x="251.4" y="314" width="3.2" height="3.2" fill="#fff" stroke="#b05060" stroke-width="1.0"/>
<g style="font-family:'Liberation Sans',Arial,sans-serif;font-size:9.75px" fill="#111" stroke="#111" stroke-width="0.12">
<text x="90.2" y="292.8">Experimental data</text>
<text x="90.2" y="305.7">M1</text>
<text x="134.8" y="305.7">M2</text>
<text x="179.4" y="305.7">M3</text>
<text x="223.8" y="305.7">M4</text>
<text x="268.4" y="305.7">M5</text>
<text x="90.2" y="318.8">M6</text>
<text x="134.8" y="318.8">M7</text>
<text x="179.4" y="318.8">M8</text>
<text x="223.8" y="318.8">M9</text>
<text x="268.4" y="318.8">M10</text>
</g>
<rect x="50.1" y="328.3" width="171.4" height="15" fill="#fff" stroke="#777" stroke-width="1"/>
<text x="53.8" y="338.8" style="font-family:'Liberation Sans',Arial,sans-serif;font-size:9.1px" fill="#000" stroke="#000" stroke-width="0.2" textLength="164.4" lengthAdjust="spacingAndGlyphs">Formation of Biomass Only from Oxygen</text>
<text x="165.8" y="545.5" text-anchor="middle" style="font-family:'Liberation Serif',serif;font-weight:bold;font-size:13px" fill="#111">(b)</text>
</svg>
</body></html>
